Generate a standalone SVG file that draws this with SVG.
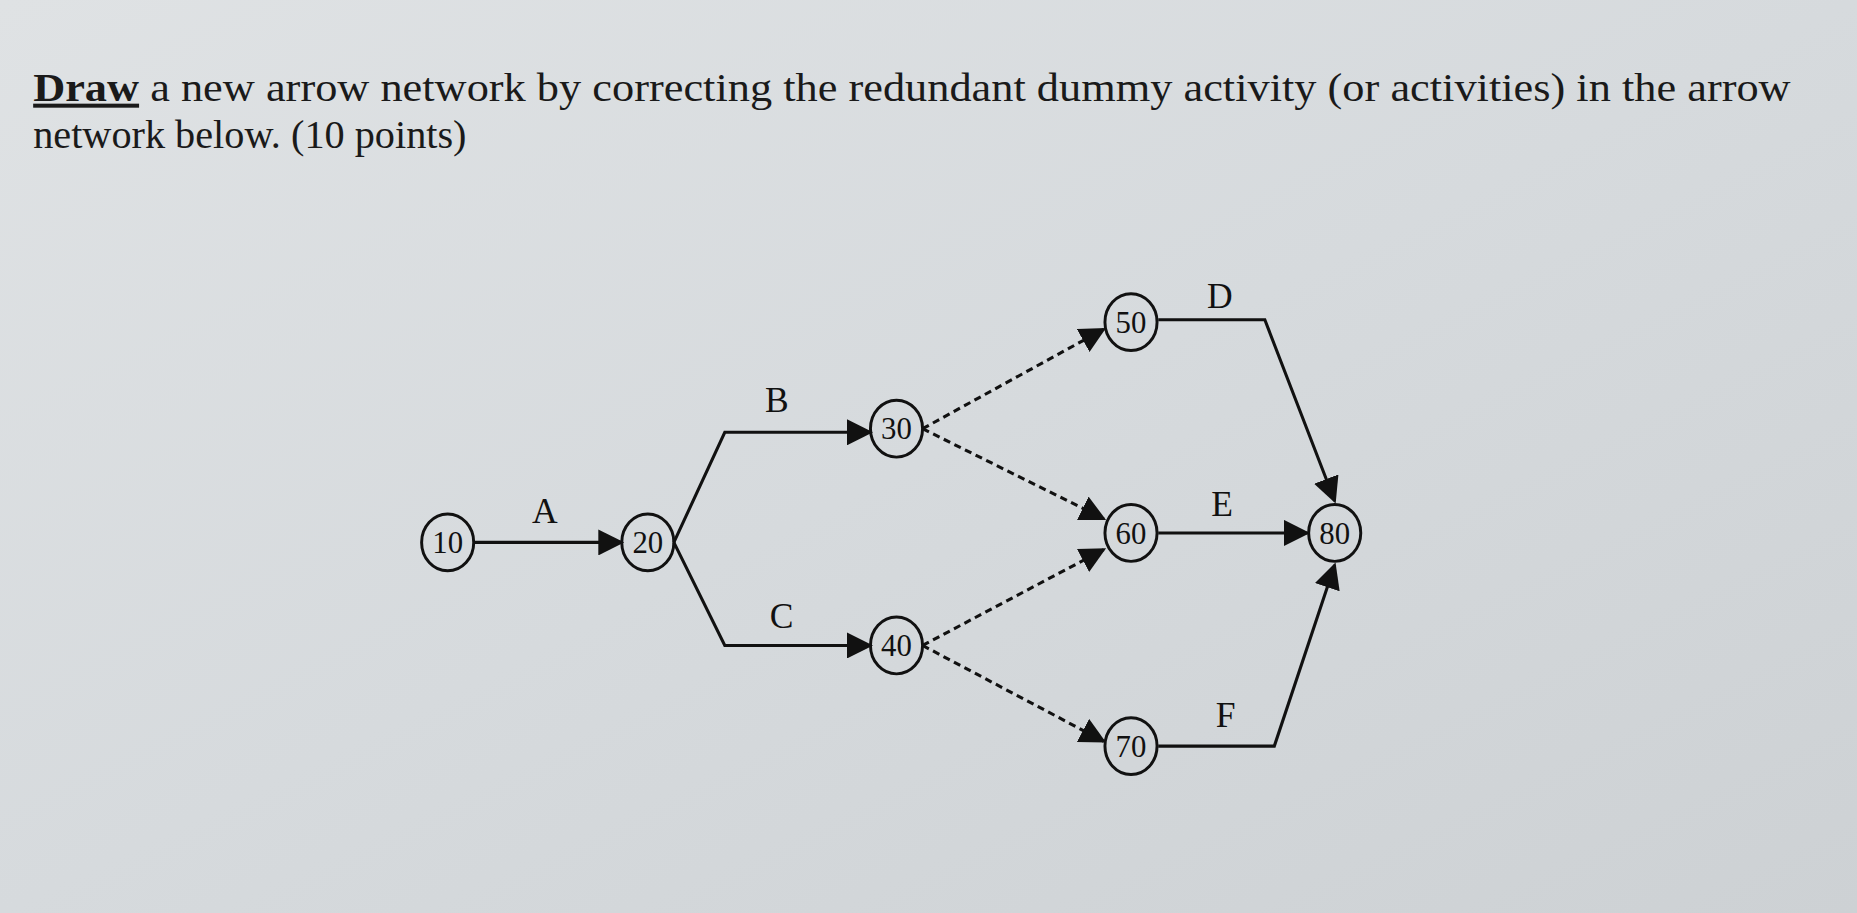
<svg xmlns="http://www.w3.org/2000/svg" width="1857" height="913" viewBox="0 0 1857 913">
<defs>
<linearGradient id="bg" x1="0" y1="0" x2="1" y2="1"><stop offset="0" stop-color="#dfe2e4"/><stop offset="0.5" stop-color="#d6dadd"/><stop offset="1" stop-color="#cdd1d4"/></linearGradient>
<marker id="ah" viewBox="0 0 10 10" refX="9" refY="5" markerWidth="22" markerHeight="22" markerUnits="userSpaceOnUse" orient="auto"><path d="M0,0 L10,5 L0,10 Z" fill="#111"/></marker>
<style>
.t{font-family:"Liberation Serif",serif;fill:#1a1a1a}
.n ellipse{fill:none;stroke:#111;stroke-width:2.5}
.n text{font-family:"Liberation Serif",serif;font-size:26px;fill:#111;text-anchor:middle}
.lbl{font-family:"Liberation Serif",serif;font-size:30px;fill:#111;text-anchor:middle}
.s{fill:none;stroke:#111;stroke-width:2.6}
.d{fill:none;stroke:#111;stroke-width:2.6;stroke-dasharray:6 4}
</style>
</defs>
<rect width="1857" height="913" fill="url(#bg)"/>
<g transform="scale(1.1843)">
<text class="t" x="28" y="85" font-size="34" textLength="1484" lengthAdjust="spacingAndGlyphs"><tspan font-weight="bold" text-decoration="underline">Draw</tspan> a new arrow network by correcting the redundant dummy activity (or activities) in the arrow</text>
<text class="t" x="28" y="125" font-size="34">network below. (10 points)</text>
<g id="connectors">
<path class="s" d="M400,458 H525" marker-end="url(#ah)"/>
<path class="s" d="M569,458 L612,365 H735" marker-end="url(#ah)"/>
<path class="s" d="M569,458 L612,545 H735" marker-end="url(#ah)"/>
<path class="d" d="M779,362 L932,278" marker-end="url(#ah)"/>
<path class="d" d="M779,362 L932,438" marker-end="url(#ah)"/>
<path class="d" d="M779,545 L932,464" marker-end="url(#ah)"/>
<path class="d" d="M779,545 L932,626" marker-end="url(#ah)"/>
<path class="s" d="M978,270 H1068 L1127,423" marker-end="url(#ah)"/>
<path class="s" d="M978,450 H1104" marker-end="url(#ah)"/>
<path class="s" d="M978,630 H1076 L1127,477" marker-end="url(#ah)"/>
</g>
<g class="lbl-group">
<text class="lbl" x="460" y="442">A</text>
<text class="lbl" x="656" y="348">B</text>
<text class="lbl" x="660" y="530">C</text>
<text class="lbl" x="1030" y="260">D</text>
<text class="lbl" x="1032" y="436">E</text>
<text class="lbl" x="1035" y="614">F</text>
</g>
<g id="n10" class="n"><ellipse cx="378" cy="458" rx="22" ry="24"/><text x="378" y="467">10</text></g>
<g id="n20" class="n"><ellipse cx="547" cy="458" rx="22" ry="24"/><text x="547" y="467">20</text></g>
<g id="n30" class="n"><ellipse cx="757" cy="362" rx="22" ry="24"/><text x="757" y="371">30</text></g>
<g id="n40" class="n"><ellipse cx="757" cy="545" rx="22" ry="24"/><text x="757" y="554">40</text></g>
<g id="n50" class="n"><ellipse cx="955" cy="272" rx="22" ry="24"/><text x="955" y="281">50</text></g>
<g id="n60" class="n"><ellipse cx="955" cy="450" rx="22" ry="24"/><text x="955" y="459">60</text></g>
<g id="n70" class="n"><ellipse cx="955" cy="630" rx="22" ry="24"/><text x="955" y="639">70</text></g>
<g id="n80" class="n"><ellipse cx="1127" cy="450" rx="22" ry="24"/><text x="1127" y="459">80</text></g>
</g>
</svg>
